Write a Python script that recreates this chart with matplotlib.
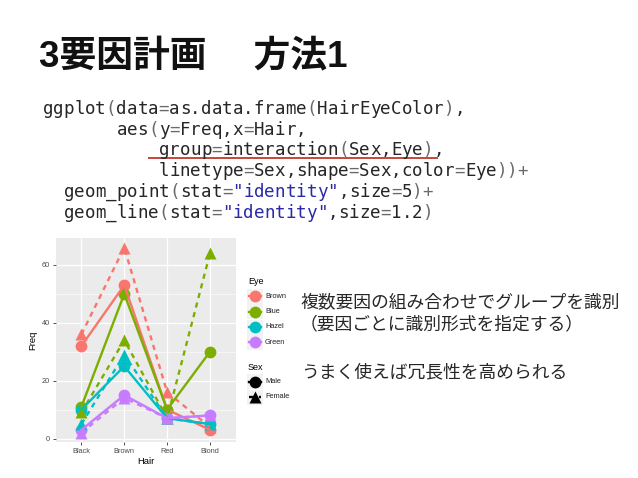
import matplotlib
matplotlib.use("Agg")
import matplotlib.pyplot as plt
from matplotlib.patches import Rectangle

# ---- data (HairEyeColor) ----
hair = ["Black", "Brown", "Red", "Blond"]
eyes = ["Brown", "Blue", "Hazel", "Green"]
male_brown = [32, 53, 10, 3]
male_blue = [11, 50, 10, 30]
male_hazel = [10, 25, 7, 5]
male_green = [3, 15, 7, 8]
female_brown = [36, 66, 16, 4]
female_blue = [9, 34, 7, 64]
female_hazel = [5, 29, 7, 5]
female_green = [2, 14, 7, 8]
y_ticks = [0, 20, 40, 60]
sex_labels = ["Male", "Female"]

male = [male_brown, male_blue, male_hazel, male_green]
female = [female_brown, female_blue, female_hazel, female_green]
eye_colors = ["#F8766D", "#7CAE00", "#00BFC4", "#C77CFF"]

W, H = 638, 478
fig = plt.figure(figsize=(W / 100, H / 100), dpi=100)
fig.patch.set_facecolor("white")

# overlay axes in pixel coordinates for slide text
ov = fig.add_axes([0, 0, 1, 1])
ov.set_xlim(0, W)
ov.set_ylim(H, 0)
ov.axis("off")

# Title
ov.text(39, 58, "3要因計画　 方法1", fontsize=26.5, fontweight="bold",
        family=["Liberation Sans", "Noto Sans CJK JP"], va="center", ha="left",
        color="#111111")

# Code block
code_lines = [
    (0, [("ggplot(data=as.data.frame(HairEyeColor),", "t")]),
    (7, [("aes(y=Freq,x=Hair,", "t")]),
    (11, [("group=interaction(Sex,Eye),", "t")]),
    (11, [("linetype=Sex,shape=Sex,color=Eye))+", "t")]),
    (2, [("geom_point(stat=", "t"), ('"identity"', "s"), (",size=5)+", "t")]),
    (2, [("geom_line(stat=", "t"), ('"identity"', "s"), (",size=1.2)", "t")]),
]
cw = 10.56
x0 = 42.5
ys = [109, 130, 150, 171, 192, 213]
fs_code = cw / (0.602 * 100 / 72)
for (indent, parts), yy in zip(code_lines, ys):
    col = indent
    for txt, kind in parts:
        for ch in txt:
            if ch == " ":
                col += 1
                continue
            if kind == "s":
                c = "#2A2AA8"
            elif ch in "()=+":
                c = "#6A6A6A"
            else:
                c = "#262626"
            ov.text(x0 + col * cw, yy, ch, fontsize=fs_code, family="DejaVu Sans Mono",
                    color=c, va="center", ha="left")
            col += 1
ov.plot([148, 438], [157.7, 157.7], color="#C0392B", lw=1.3, solid_capstyle="butt")

# Japanese notes
jp = ["Noto Sans CJK JP", "DejaVu Sans"]
ov.text(300, 302, "複数要因の組み合わせでグループを識別", fontsize=12.8, family=jp,
        va="center", ha="left", color="#262626")
ov.text(300, 324, "（要因ごとに識別形式を指定する）", fontsize=12.8, family=jp,
        va="center", ha="left", color="#262626")
ov.text(301, 372, "うまく使えば冗長性を高められる", fontsize=12.8, family=jp,
        va="center", ha="left", color="#262626")

# ---- ggplot-like chart ----
left, right, top, bottom = 55.7, 235.7, 238.3, 442.0
ax = fig.add_axes([left / W, 1 - bottom / H, (right - left) / W, (bottom - top) / H])
ax.set_facecolor("#EBEBEB")
x = list(range(len(hair)))
ax.set_xlim(-0.6, len(hair) - 1 + 0.6)
ax.set_ylim(-1.2, 69.2)
for s in ax.spines.values():
    s.set_visible(False)
for yv in [10, 30, 50]:
    ax.axhline(yv, color="white", lw=0.4, zorder=0)
for yv in y_ticks:
    ax.axhline(yv, color="white", lw=0.9, zorder=0)
for xv in x:
    ax.axvline(xv, color="white", lw=0.9, zorder=0)

ms = 8.5
for i in range(4):
    ax.plot(x, male[i], "o", color=eye_colors[i], ms=ms, mec="none", zorder=2)
for i in range(4):
    ax.plot(x, female[i], "^", color=eye_colors[i], ms=ms + 0.5, mec="none", zorder=2)
for i in range(4):
    ax.plot(x, male[i], "-", color=eye_colors[i], lw=1.7, zorder=3)
    ax.plot(x, female[i], "-", color=eye_colors[i], lw=1.7, dashes=(2.2, 2.0), zorder=3)

ax.set_xticks(x)
ax.set_xticklabels(hair)
ax.set_yticks(y_ticks)
ax.tick_params(axis="both", length=2.5, width=0.6, color="#333333",
               labelsize=5.3, labelcolor="#4D4D4D", pad=1.5)
for lab in ax.get_xticklabels() + ax.get_yticklabels():
    lab.set_family("Liberation Sans")
ax.set_xlabel("Hair", fontsize=6.8, family="Liberation Sans", labelpad=1.5)
ax.set_ylabel("Freq", fontsize=6.8, family="Liberation Sans", labelpad=3)

# legend (drawn manually)
lf = "Liberation Sans"
ov.text(248, 282, "Eye", fontsize=6.5, family=lf, va="center", ha="left")
for i, (name, yy) in enumerate(zip(eyes, [296, 311.5, 327, 342])):
    ov.add_patch(Rectangle((247, yy - 7.5), 16, 15, facecolor="#F2F2F2", edgecolor="none"))
    ov.plot([249, 261], [yy, yy], color=eye_colors[i], lw=1.7)
    ov.plot([255], [yy], "o", color=eye_colors[i], ms=ms, mec="none")
    ov.text(265, yy, name, fontsize=5.3, family=lf, va="center", ha="left", color="#222222")
ov.text(248, 367, "Sex", fontsize=6.5, family=lf, va="center", ha="left")
for mk, name, yy, ls in zip(["o", "^"], sex_labels, [381.5, 397], ["-", "--"]):
    ov.add_patch(Rectangle((247, yy - 7.5), 16, 15, facecolor="#F2F2F2", edgecolor="none"))
    if ls == "-":
        ov.plot([249, 261], [yy, yy], color="black", lw=1.7)
    else:
        ov.plot([249, 261], [yy, yy], color="black", lw=1.7, dashes=(2.2, 2.0))
    ov.plot([255], [yy], mk, color="black", ms=ms, mec="none")
    ov.text(265, yy, name, fontsize=5.3, family=lf, va="center", ha="left", color="#222222")

fig.savefig("out.png", dpi=100, facecolor="white")
